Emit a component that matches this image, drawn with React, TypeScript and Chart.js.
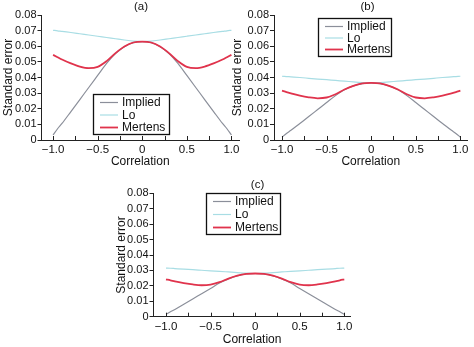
import React, { useEffect, useRef } from 'react';
import { Chart, registerables } from 'chart.js';

Chart.register(...registerables);

const FONT = '"Liberation Sans", Arial, Helvetica, sans-serif';
const TEXT_COLOR = '#111111';
const AXIS_COLOR = '#222222';

// Correlation values (x)
const RHO = [-1, -0.95, -0.9, -0.8, -0.7, -0.6, -0.5, -0.4, -0.3, -0.2, -0.1, 0, 0.1, 0.2, 0.3, 0.4, 0.5, 0.6, 0.7, 0.8, 0.9, 0.95, 1];

// Panel (a)
const A_IMPLIED = [0.0032, 0.0072, 0.0106, 0.0182, 0.0259, 0.0336, 0.0413, 0.049, 0.0553, 0.0597, 0.0623, 0.063, 0.0623, 0.0597, 0.0553, 0.049, 0.0413, 0.0336, 0.0259, 0.0182, 0.0106, 0.0072, 0.0032];
const A_LO = [0.0702, 0.0699, 0.0695, 0.0688, 0.068, 0.0672, 0.0664, 0.0656, 0.0648, 0.064, 0.0633, 0.063, 0.0633, 0.064, 0.0648, 0.0656, 0.0664, 0.0672, 0.068, 0.0688, 0.0695, 0.0699, 0.0702];
const A_MERTENS = [0.0545, 0.053, 0.0515, 0.049, 0.047, 0.046, 0.0468, 0.0505, 0.0556, 0.0598, 0.0624, 0.063, 0.0624, 0.0598, 0.0556, 0.0505, 0.0468, 0.046, 0.047, 0.049, 0.0515, 0.053, 0.0545];

// Panel (b)
const B_IMPLIED = [0.0018, 0.0042, 0.0062, 0.0106, 0.015, 0.0195, 0.024, 0.0284, 0.0321, 0.0346, 0.0361, 0.0366, 0.0361, 0.0346, 0.0321, 0.0284, 0.024, 0.0195, 0.015, 0.0106, 0.0062, 0.0042, 0.0018];
const B_LO = [0.0408, 0.0406, 0.0404, 0.04, 0.0395, 0.039, 0.0386, 0.0381, 0.0377, 0.0372, 0.0368, 0.0366, 0.0368, 0.0372, 0.0377, 0.0381, 0.0386, 0.039, 0.0395, 0.04, 0.0404, 0.0406, 0.0408];
const B_MERTENS = [0.0316, 0.0307, 0.0299, 0.0284, 0.0273, 0.0267, 0.0272, 0.0293, 0.0323, 0.0347, 0.0362, 0.0366, 0.0362, 0.0347, 0.0323, 0.0293, 0.0272, 0.0267, 0.0273, 0.0284, 0.0299, 0.0307, 0.0316];

// Panel (c)
const C_IMPLIED = [0.0016, 0.0032, 0.0047, 0.0081, 0.0115, 0.0149, 0.0183, 0.0218, 0.0245, 0.0265, 0.0277, 0.028, 0.0277, 0.0265, 0.0245, 0.0218, 0.0183, 0.0149, 0.0115, 0.0081, 0.0047, 0.0032, 0.0016];
const C_LO = [0.0315, 0.0314, 0.0312, 0.0308, 0.0305, 0.0301, 0.0297, 0.0294, 0.029, 0.0286, 0.0282, 0.028, 0.0282, 0.0286, 0.029, 0.0294, 0.0297, 0.0301, 0.0305, 0.0308, 0.0312, 0.0314, 0.0315];
const C_MERTENS = [0.0242, 0.0236, 0.0229, 0.0218, 0.0209, 0.0204, 0.0208, 0.0224, 0.0247, 0.0266, 0.0277, 0.028, 0.0277, 0.0266, 0.0247, 0.0224, 0.0208, 0.0204, 0.0209, 0.0218, 0.0229, 0.0236, 0.0242];

const X_TICKS = [-1, -0.75, -0.5, -0.25, 0, 0.25, 0.5, 0.75, 1];
const X_TICK_LABELS = ['\u22121.0', '', '\u22120.5', '', '0', '', '0.5', '', '1.0'];
const Y_TICKS = [0, 0.01, 0.02, 0.03, 0.04, 0.05, 0.06, 0.07, 0.08];
const Y_TICK_LABELS = ['0', '0.01', '0.02', '0.03', '0.04', '0.05', '0.06', '0.07', '0.08'];

const SERIES_NAMES = ['Implied', 'Lo', 'Mertens'];
const SERIES_COLORS = ['#8b8f9a', '#a8dde4', '#e0334c'];
const SERIES_WIDTHS = [1.2, 1.2, 1.8];
const PANEL_TITLES = ['(a)', '(b)', '(c)'];
const X_TITLE = 'Correlation';
const Y_TITLE = 'Standard error';

type PanelSpec = {
  title: string;
  implied: number[];
  lo: number[];
  mertens: number[];
  canvas: { left: number; top: number; width: number; height: number };
  area: { left: number; top: number; right: number; bottom: number };
  xMin: number;
  xMax: number;
  titlePos: { x: number; y: number };
  legend: { left: number; top: number; width: number; height: number };
};

const PANELS: PanelSpec[] = [
  {
    title: PANEL_TITLES[0], implied: A_IMPLIED, lo: A_LO, mertens: A_MERTENS,
    canvas: { left: 0, top: 0, width: 248, height: 169 },
    area: { left: 41.5, top: 15, right: 239, bottom: 140 },
    xMin: -1.13, xMax: 1.085,
    titlePos: { x: 141, y: 6.5 },
    legend: { left: 93, top: 94, width: 77, height: 41 },
  },
  {
    title: PANEL_TITLES[1], implied: B_IMPLIED, lo: B_LO, mertens: B_MERTENS,
    canvas: { left: 229, top: 0, width: 245, height: 169 },
    area: { left: 274, top: 15, right: 467.5, bottom: 140 },
    xMin: -1.09, xMax: 1.08,
    titlePos: { x: 367.5, y: 6.5 },
    legend: { left: 318, top: 18, width: 74, height: 39 },
  },
  {
    title: PANEL_TITLES[2], implied: C_IMPLIED, lo: C_LO, mertens: C_MERTENS,
    canvas: { left: 113, top: 175, width: 251, height: 172 },
    area: { left: 153.5, top: 193.3, right: 350.7, bottom: 316.7 },
    xMin: -1.14, xMax: 1.072,
    titlePos: { x: 257.5, y: 185 },
    legend: { left: 206, top: 193, width: 75, height: 42 },
  },
];

function Panel({ spec }: { spec: PanelSpec }) {
  const ref = useRef<HTMLCanvasElement | null>(null);

  useEffect(() => {
    const canvas = ref.current;
    if (!canvas) return;
    const c = spec.canvas;
    const a = spec.area;

    const overlay = {
      id: 'overlay',
      afterDraw(chart: any) {
        const ctx = chart.ctx as CanvasRenderingContext2D;
        const xs = chart.scales.x;
        const yb = chart.chartArea.bottom;
        ctx.save();
        // inward x tick marks
        ctx.strokeStyle = AXIS_COLOR;
        ctx.lineWidth = 1;
        X_TICKS.forEach((v) => {
          const px = Math.round(xs.getPixelForValue(v)) + 0.5;
          ctx.beginPath();
          ctx.moveTo(px, yb);
          ctx.lineTo(px, yb - 4);
          ctx.stroke();
        });
        // panel title
        ctx.fillStyle = TEXT_COLOR;
        ctx.font = `11.5px ${FONT}`;
        ctx.textAlign = 'center';
        ctx.textBaseline = 'middle';
        ctx.fillText(spec.title, spec.titlePos.x - c.left, spec.titlePos.y - c.top);
        // legend
        const L = spec.legend;
        const lx = L.left - c.left;
        const ly = L.top - c.top;
        ctx.fillStyle = '#ffffff';
        ctx.fillRect(lx, ly, L.width, L.height);
        ctx.strokeStyle = '#111111';
        ctx.lineWidth = 1.3;
        ctx.strokeRect(lx + 0.5, ly + 0.5, L.width - 1, L.height - 1);
        const rowGap = (L.height - 16) / 2;
        SERIES_NAMES.forEach((name, i) => {
          const ry = ly + 8.5 + i * rowGap;
          ctx.strokeStyle = SERIES_COLORS[i];
          ctx.lineWidth = SERIES_WIDTHS[i];
          ctx.beginPath();
          ctx.moveTo(lx + 7, ry);
          ctx.lineTo(lx + 25, ry);
          ctx.stroke();
          ctx.fillStyle = TEXT_COLOR;
          ctx.font = `12px ${FONT}`;
          ctx.textAlign = 'left';
          ctx.textBaseline = 'middle';
          ctx.fillText(name, lx + 29, ry + 0.5);
        });
        ctx.restore();
      },
    };

    const mk = (vals: number[]) => RHO.map((x, i) => ({ x, y: vals[i] }));
    const series = [spec.implied, spec.lo, spec.mertens];
    const orders = [1, 2, 0];

    const chart = new Chart(canvas, {
      type: 'line',
      data: {
        datasets: series.map((vals, i) => ({
          label: SERIES_NAMES[i],
          data: mk(vals),
          borderColor: SERIES_COLORS[i],
          borderWidth: SERIES_WIDTHS[i],
          pointRadius: 0,
          fill: false,
          cubicInterpolationMode: 'monotone' as const,
          order: orders[i],
        })),
      },
      options: {
        animation: false,
        responsive: false,
        maintainAspectRatio: false,
        layout: {
          padding: { top: a.top - c.top, right: c.left + c.width - a.right, left: 0, bottom: 0 },
        },
        plugins: { legend: { display: false }, tooltip: { enabled: false }, title: { display: false } },
        scales: {
          x: {
            type: 'linear',
            min: spec.xMin,
            max: spec.xMax,
            afterFit: (s: any) => { s.height = c.top + c.height - a.bottom; },
            afterBuildTicks: (s: any) => { s.ticks = X_TICKS.map((v) => ({ value: v })); },
            ticks: {
              autoSkip: false,
              maxRotation: 0,
              padding: 3,
              color: TEXT_COLOR,
              font: { family: FONT, size: 11.5 },
              callback: (_v: any, i: number) => X_TICK_LABELS[i],
            },
            grid: { display: false, drawTicks: false },
            border: { display: true, color: AXIS_COLOR, width: 1 },
            title: { display: true, text: X_TITLE, color: TEXT_COLOR, font: { family: FONT, size: 12 }, padding: 0 },
          },
          y: {
            type: 'linear',
            min: 0,
            max: 0.08,
            afterFit: (s: any) => { s.width = a.left - c.left; },
            afterBuildTicks: (s: any) => { s.ticks = Y_TICKS.map((v) => ({ value: v })); },
            ticks: {
              autoSkip: false,
              padding: 1,
              color: TEXT_COLOR,
              font: { family: FONT, size: 11 },
              callback: (_v: any, i: number) => Y_TICK_LABELS[i],
            },
            grid: { display: true, drawOnChartArea: false, drawTicks: true, tickLength: 4, color: AXIS_COLOR },
            border: { display: true, color: AXIS_COLOR, width: 1 },
            title: { display: true, text: Y_TITLE, color: TEXT_COLOR, font: { family: FONT, size: 12 }, padding: { top: 1, bottom: 0 } },
          },
        },
      },
      plugins: [overlay],
    } as any);

    return () => chart.destroy();
  }, [spec]);

  const c = spec.canvas;
  return (
    <canvas
      ref={ref}
      width={c.width}
      height={c.height}
      style={{ position: 'absolute', left: c.left, top: c.top, width: c.width, height: c.height }}
    />
  );
}

export default function App() {
  return (
    <div style={{ position: 'absolute', left: 0, top: 0, width: 474, height: 347, background: '#ffffff', overflow: 'hidden' }}>
      {PANELS.map((p, i) => (
        <Panel key={i} spec={p} />
      ))}
    </div>
  );
}
